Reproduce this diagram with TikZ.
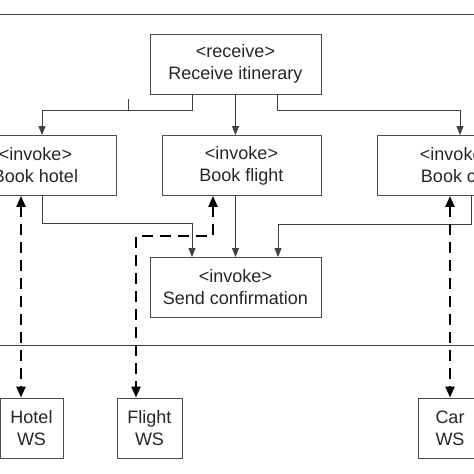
\documentclass[tikz,border=0pt]{standalone}
\usepackage{fontspec}
\setmainfont{Liberation Sans}
\usetikzlibrary{arrows.meta}
\tikzset{
  activity/.style={draw=black!70,line width=0.9pt,minimum height=60pt,align=center,
    font=\fontsize{18}{22}\selectfont,text=black!85,inner sep=0pt},
  wsbox/.style={activity,minimum width=64pt},
  flow/.style={draw=black!75,line width=0.9pt,-{Triangle[length=9pt,width=7pt]}},
  calls/.style={draw=black,line width=2.2pt,dash pattern=on 11pt off 7pt,
    {Triangle[length=11pt,width=9pt]}-{Triangle[length=11pt,width=9pt]}}
}
\begin{document}
\begin{tikzpicture}[x=10pt,y=10pt]
	\useasboundingbox (0,0) rectangle (47.4,47.4);
	%	\draw[help lines] (0,0) grid (47.4,47.4);
	\draw[black!75,line width=0.9pt] (0,46.0) -- (47.4,46.0);
	\draw[black!75,line width=0.9pt] (0,12.9) -- (47.4,12.9);
	\node[activity,minimum width=171pt] (recv) at (23.55,41.0) {<receive>\\Receive itinerary};
	\node[activity,minimum width=161pt] (hotel) at (3.55,30.85) {<invoke>\\Book hotel};
	\node[activity,minimum width=159pt] (flight) at (24.15,30.85) {<invoke>\\Book flight};
	\node[activity,minimum width=159pt] (car) at (45.65,30.85) {<invoke>\\Book car};
	\node[activity,minimum width=171pt] (send) at (23.55,18.65) {<invoke>\\Send confirmation};
	\node[wsbox,minimum width=63pt] (hotelws) at (3.15,4.6) {Hotel\\WS};
	\node[wsbox,minimum width=65pt] (flightws) at (14.95,4.6) {Flight\\WS};
	\node[wsbox] (carws) at (45.0,4.6) {Car\\WS};
	% receive -> invokes
	\draw[flow] ([xshift=-43.5pt]recv.south) -- ++(0,-1.6) -| ([xshift=6.5pt]hotel.north);
	\draw[black!75,line width=0.9pt] (12.8,36.4) -- ++(0,1.1);
	\draw[flow] (recv.south) -- (recv.south |- flight.north);
	\draw[flow] ([xshift=41.5pt]recv.south) -- ++(0,-1.6) -| ([xshift=3.5pt]car.north);
	% invokes -> send confirmation
	\draw[flow] ([xshift=6.5pt]hotel.south) -- ++(0,-2.8) -| ([xshift=-43.5pt]send.north);
	\draw[flow] (send.north |- flight.south) -- (send.north);
	\draw[flow] ([xshift=14.5pt]car.south) -- ++(0,-2.9) -| ([xshift=42.5pt]send.north);
	% web service calls
	\draw[calls] ([xshift=-14.5pt]hotel.south) -- ([xshift=-14.5pt]hotel.south |- hotelws.north);
	\draw[calls] ([xshift=-28.5pt]flight.south) -- ++(0,-4.0) -| ([xshift=-13.5pt]flightws.north);
	\draw[calls] (carws.north |- car.south) -- (carws.north);
\end{tikzpicture}
\end{document}
